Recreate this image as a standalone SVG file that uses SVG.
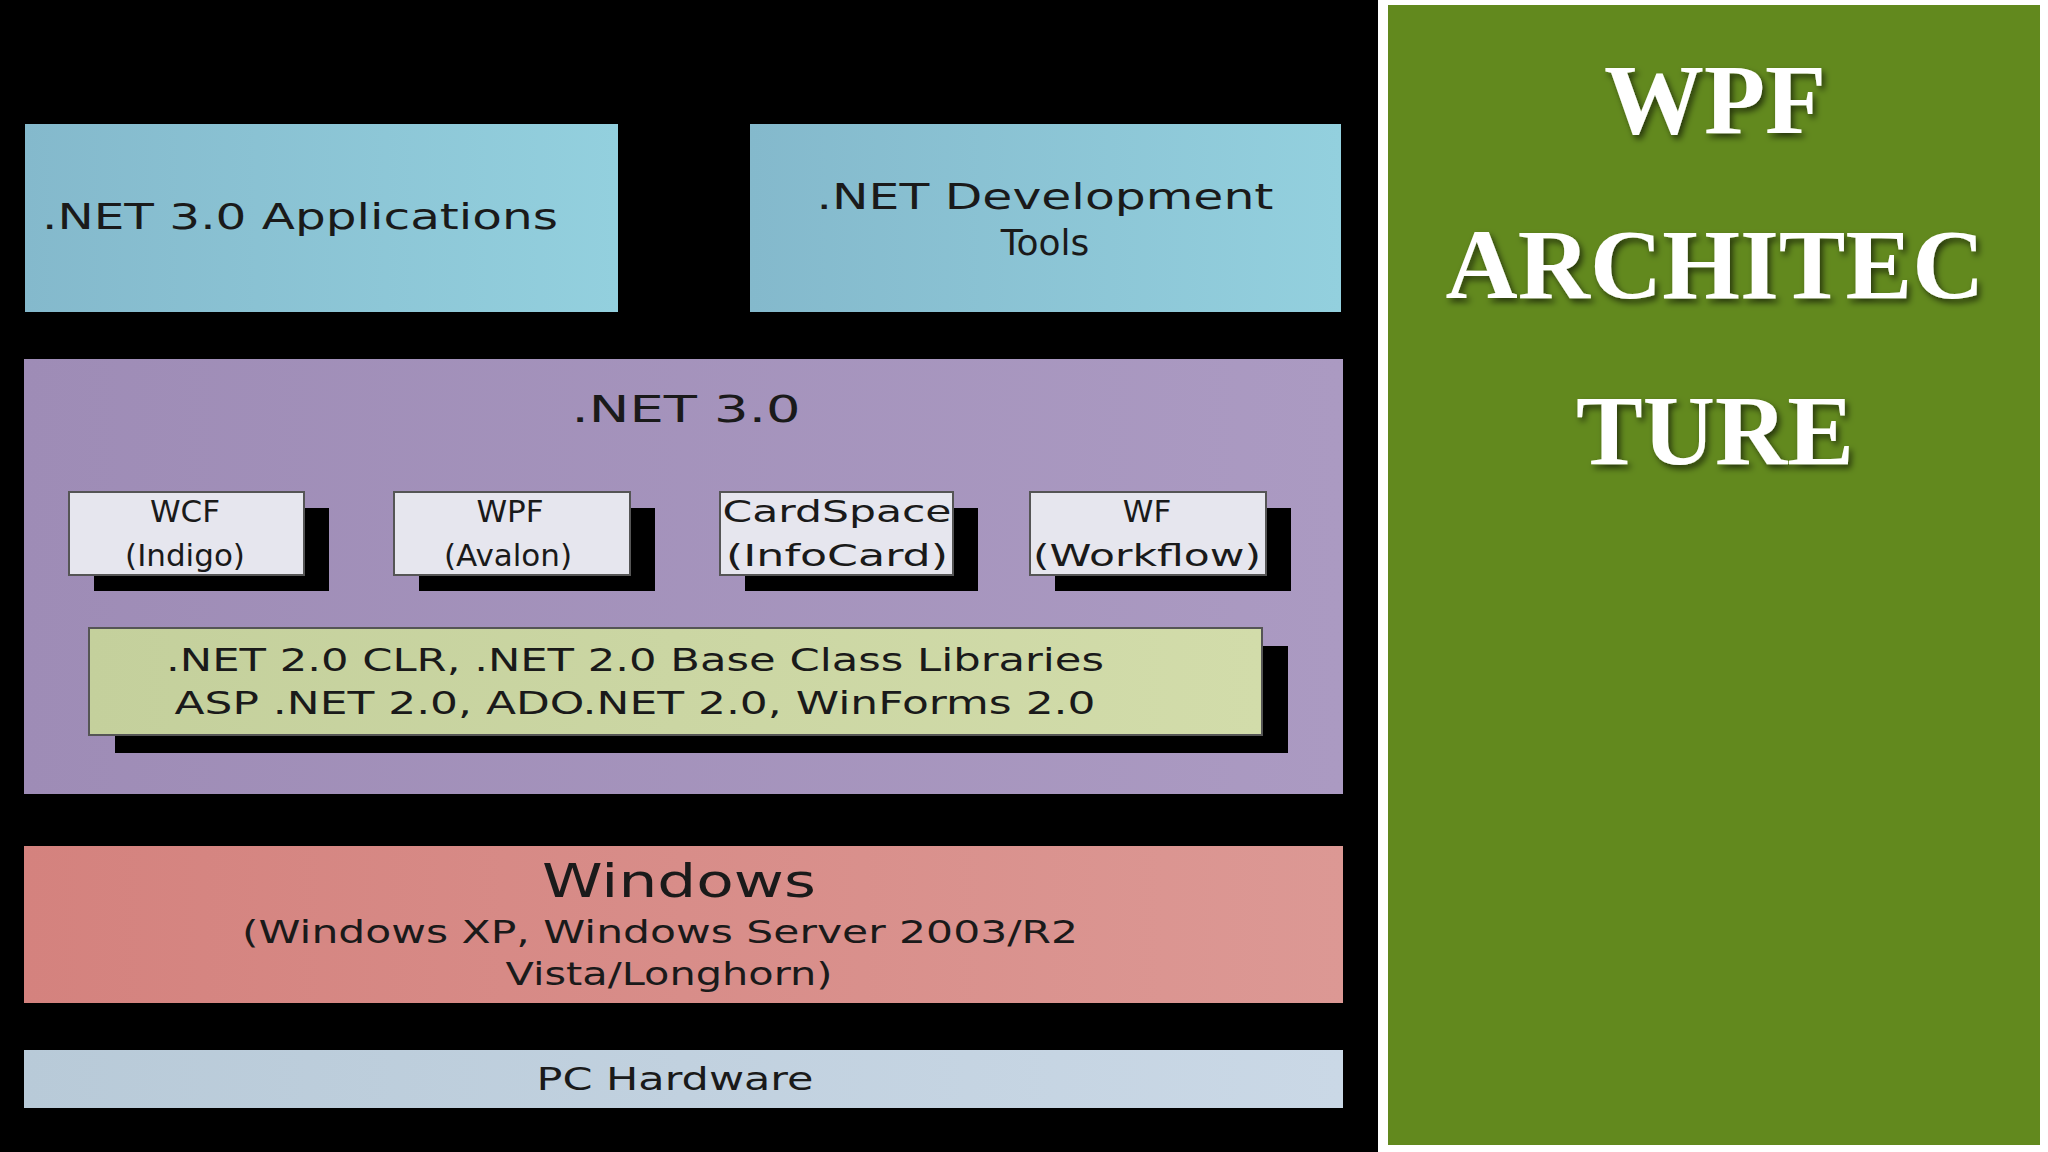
<svg xmlns="http://www.w3.org/2000/svg" width="2048" height="1152" viewBox="0 0 2048 1152">
<defs>
<linearGradient id="gBlue" x1="0" y1="0" x2="1" y2="0"><stop offset="0" stop-color="#84b9cc"/><stop offset="1" stop-color="#93d0de"/></linearGradient>
<linearGradient id="gPurple" x1="0" y1="0" x2="1" y2="0"><stop offset="0" stop-color="#9e8cb6"/><stop offset="1" stop-color="#ab9ac2"/></linearGradient>
<linearGradient id="gGreen" x1="0" y1="0" x2="1" y2="0"><stop offset="0" stop-color="#c4d09c"/><stop offset="1" stop-color="#d2dcaa"/></linearGradient>
<linearGradient id="gRed" x1="0" y1="0" x2="1" y2="0"><stop offset="0" stop-color="#d4827e"/><stop offset="1" stop-color="#dc9894"/></linearGradient>
<linearGradient id="gGray" x1="0" y1="0" x2="1" y2="0"><stop offset="0" stop-color="#b8cad8"/><stop offset="1" stop-color="#cad8e6"/></linearGradient>
<filter id="sh"><feDropShadow dx="3" dy="4" stdDeviation="3" flood-color="#000" flood-opacity="0.6"/></filter>
</defs>
<style>
.t{font-family:"DejaVu Sans",sans-serif;fill:#1a1a1a;text-anchor:middle}
.sm{fill:#e6e6ee;stroke:#555;stroke-width:2}
.shd{fill:#000}
.title{font-family:"Liberation Serif",serif;font-weight:bold;font-size:100px;fill:#fff;text-anchor:middle;filter:url(#sh)}
</style>
<rect x="0" y="0" width="2048" height="1152" fill="#fff"/>
<rect x="0" y="0" width="1378" height="1152" fill="#000"/>
<rect x="1388" y="5" width="652" height="1140" fill="#62891e"/>
<g id="apps"><rect x="25" y="124" width="593" height="188" fill="url(#gBlue)"/><text class="t" x="300" y="229" font-size="36" textLength="516" lengthAdjust="spacingAndGlyphs">.NET 3.0 Applications</text></g>
<g id="devtools"><rect x="750" y="124" width="591" height="188" fill="url(#gBlue)"/><text class="t" x="1045" y="209" font-size="36" textLength="457" lengthAdjust="spacingAndGlyphs">.NET Development</text><text class="t" x="1045" y="255" font-size="36">Tools</text></g>
<g id="net30"><rect x="24" y="359" width="1319" height="435" fill="url(#gPurple)"/><text class="t" x="686" y="422" font-size="38" textLength="229" lengthAdjust="spacingAndGlyphs">.NET 3.0</text></g>
<g id="wcf"><rect class="shd" x="94" y="508" width="235" height="83"/><rect class="sm" x="69" y="492" width="235" height="83"/><text class="t" x="185" y="522" font-size="31">WCF</text><text class="t" x="185" y="566" font-size="31">(Indigo)</text></g>
<g id="wpf"><rect class="shd" x="419" y="508" width="236" height="83"/><rect class="sm" x="394" y="492" width="236" height="83"/><text class="t" x="510" y="522" font-size="31">WPF</text><text class="t" x="508" y="566" font-size="31">(Avalon)</text></g>
<g id="cardspace"><rect class="shd" x="745" y="508" width="233" height="83"/><rect class="sm" x="720" y="492" width="233" height="83"/><text class="t" x="837" y="522" font-size="31" textLength="229" lengthAdjust="spacingAndGlyphs">CardSpace</text><text class="t" x="837" y="566" font-size="31" textLength="222" lengthAdjust="spacingAndGlyphs">(InfoCard)</text></g>
<g id="wf"><rect class="shd" x="1055" y="508" width="236" height="83"/><rect class="sm" x="1030" y="492" width="236" height="83"/><text class="t" x="1147" y="522" font-size="31">WF</text><text class="t" x="1147" y="566" font-size="31" textLength="228" lengthAdjust="spacingAndGlyphs">(Workflow)</text></g>
<g id="clr"><rect class="shd" x="115" y="646" width="1173" height="107"/><rect x="89" y="628" width="1173" height="107" fill="url(#gGreen)" stroke="#555" stroke-width="2"/><text class="t" x="635" y="671" font-size="32" textLength="938" lengthAdjust="spacingAndGlyphs">.NET 2.0 CLR, .NET 2.0 Base Class Libraries</text><text class="t" x="635" y="714" font-size="32" textLength="921" lengthAdjust="spacingAndGlyphs">ASP .NET 2.0, ADO.NET 2.0, WinForms 2.0</text></g>
<g id="windows"><rect x="24" y="846" width="1319" height="157" fill="url(#gRed)"/><text class="t" x="679" y="897" font-size="46" textLength="274" lengthAdjust="spacingAndGlyphs">Windows</text><text class="t" x="660" y="943" font-size="32" textLength="836" lengthAdjust="spacingAndGlyphs">(Windows XP, Windows Server 2003/R2</text><text class="t" x="669" y="985" font-size="32" textLength="327" lengthAdjust="spacingAndGlyphs">Vista/Longhorn)</text></g>
<g id="hardware"><rect x="24" y="1050" width="1319" height="58" fill="url(#gGray)"/><text class="t" x="675" y="1090" font-size="32" textLength="277" lengthAdjust="spacingAndGlyphs">PC Hardware</text></g>
<g id="title"><text class="title" x="1715" y="133">WPF</text><text class="title" x="1715" y="298">ARCHITEC</text><text class="title" x="1715" y="464">TURE</text></g>
<g id="connectors"/>
</svg>
